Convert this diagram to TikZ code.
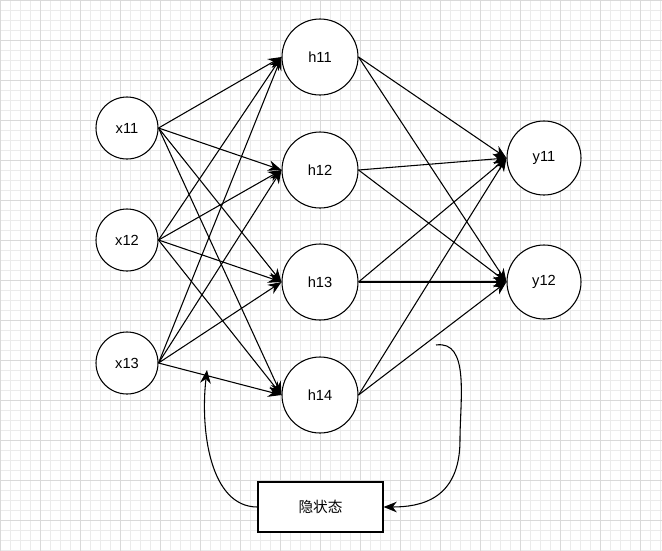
\documentclass[tikz,border=0pt]{standalone}
\usepackage{fontspec}
\setmainfont{Liberation Sans}
\newfontfamily\cjk{Noto Sans CJK SC}
\usetikzlibrary{arrows.meta}
\begin{document}
\begin{tikzpicture}[x=0.75pt,y=-0.75pt,
  neuron/.style={circle,draw,thick,fill=white,font=\fontsize{11}{13}\selectfont},
  conn/.style={thick,-{Stealth[length=10pt,width=8pt]}},
  loopline/.style={thick,-{Stealth[length=10pt,width=8pt]}}]
\useasboundingbox (0,0) rectangle (662,551);
\fill[white] (0,0) rectangle (662,551);
\foreach \i in {0,10,...,660}{\draw[black!8] (\i,0) -- (\i,551);}
\foreach \i in {0,10,...,550}{\draw[black!8] (0,\i) -- (662,\i);}
\foreach \i in {0,40,...,660}{\draw[black!15] (\i,0) -- (\i,551);}
\foreach \i in {0,40,...,550}{\draw[black!15] (0,\i) -- (662,\i);}
\node[neuron,minimum size=46.5pt] (x11) at (127,128) {x11};
\node[neuron,minimum size=46.5pt] (x12) at (127,240) {x12};
\node[neuron,minimum size=46.5pt] (x13) at (127,363) {x13};
\node[neuron,minimum size=57pt] (h11) at (320,57) {h11};
\node[neuron,minimum size=57pt] (h12) at (320,170) {h12};
\node[neuron,minimum size=57pt] (h13) at (320,282) {h13};
\node[neuron,minimum size=57pt] (h14) at (320,395) {h14};
\node[neuron,minimum size=55.5pt] (y11) at (544,158) {y11};
\node[neuron,minimum size=55.5pt] (y12) at (544,282) {y12};
\node[draw,thick,fill=white,minimum width=93.75pt,minimum height=37.5pt,font=\cjk\fontsize{11}{13}\selectfont] (hs) at (320.5,507) {隐状态};
\foreach \a in {x11,x12,x13}{
  \foreach \b in {h11,h12,h13,h14}{
    \draw[conn] (\a.east) -- (\b.west);
  }
}
\foreach \a in {h11,h12,h13,h14}{
  \foreach \b in {y11,y12}{
    \draw[conn] (\a.east) -- (\b.west);
  }
}
\coordinate (cs) at (436,345);
\coordinate (ce) at (207,370);
\draw[loopline] (hs.west) .. controls (210,507) and (200,430) .. (ce);
\draw[loopline] (cs) .. controls (470,340) and (460,400) .. (460,440) .. controls (460,500) and (420,507) .. (hs.east);
\end{tikzpicture}
\end{document}
